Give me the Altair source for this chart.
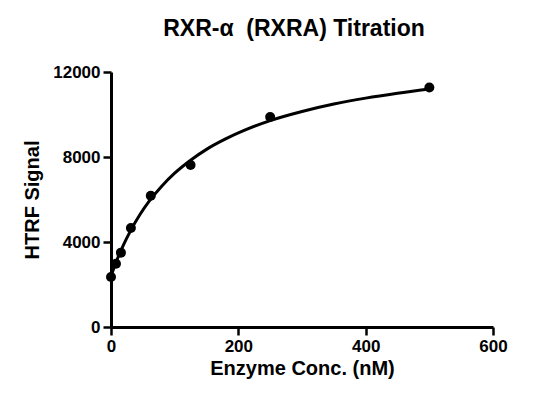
import altair as alt
import pandas as pd

conc = [0, 7.8, 15.6, 31.25, 62.5, 125, 250, 500]
signal = [2350, 2980, 3500, 4660, 6180, 7620, 9880, 11270]

# Fitted curve
curve_conc = [0, 5, 10, 20, 30, 45, 60, 80, 100, 125, 150, 180, 210, 250,
              300, 350, 400, 450, 500]
curve_signal = [2400, 2810, 3200, 3890, 4490, 5270, 5920, 6640, 7240, 7850,
                8360, 8850, 9260, 9710, 10140, 10490, 10770, 11000, 11200]

x_ticks = [0, 200, 400, 600]
y_ticks = [0, 4000, 8000, 12000]

pts = pd.DataFrame({"conc": conc, "signal": signal})
fit = pd.DataFrame({"conc": curve_conc, "signal": curve_signal})

FONT = "Liberation Sans"

def axis(vals, title, pad):
    return alt.Axis(
        values=vals, title=title, grid=False, format="d",
        labelFlush=False, labelOverlap=False,
        domainColor="black", domainWidth=3,
        tickColor="black", tickWidth=2.5, tickSize=8,
        labelFont=FONT, labelFontSize=17, labelFontWeight="bold",
        labelColor="black", labelPadding=3,
        titleFont=FONT, titleFontSize=20, titleFontWeight="bold",
        titleColor="black", titlePadding=pad,
    )

x = alt.X("conc:Q", scale=alt.Scale(domain=[0, 600], nice=False),
          axis=axis(x_ticks, "Enzyme Conc. (nM)", 4))
y = alt.Y("signal:Q", scale=alt.Scale(domain=[0, 12000], nice=False),
          axis=axis(y_ticks, "HTRF Signal", 10))

curve = alt.Chart(fit).mark_line(
    color="black", strokeWidth=3, interpolate="monotone"
).encode(x=x, y=y)

dots = alt.Chart(pts).mark_circle(
    color="black", opacity=1, size=100
).encode(x=x, y=y)

chart = (curve + dots).properties(
    width=382, height=255,
    title=alt.TitleParams(
        "RXR-α\u00a0 (RXRA) Titration", font=FONT, fontSize=23,
        fontWeight="bold", color="black", anchor="middle", dx=-8, offset=22,
    ),
    autosize=alt.AutoSizeParams(type="none"),
    padding={"left": 103, "top": 64, "right": 40, "bottom": 60},
).configure_view(stroke=None)

chart.save("out.html", embed_options={"renderer": "svg", "actions": False})
